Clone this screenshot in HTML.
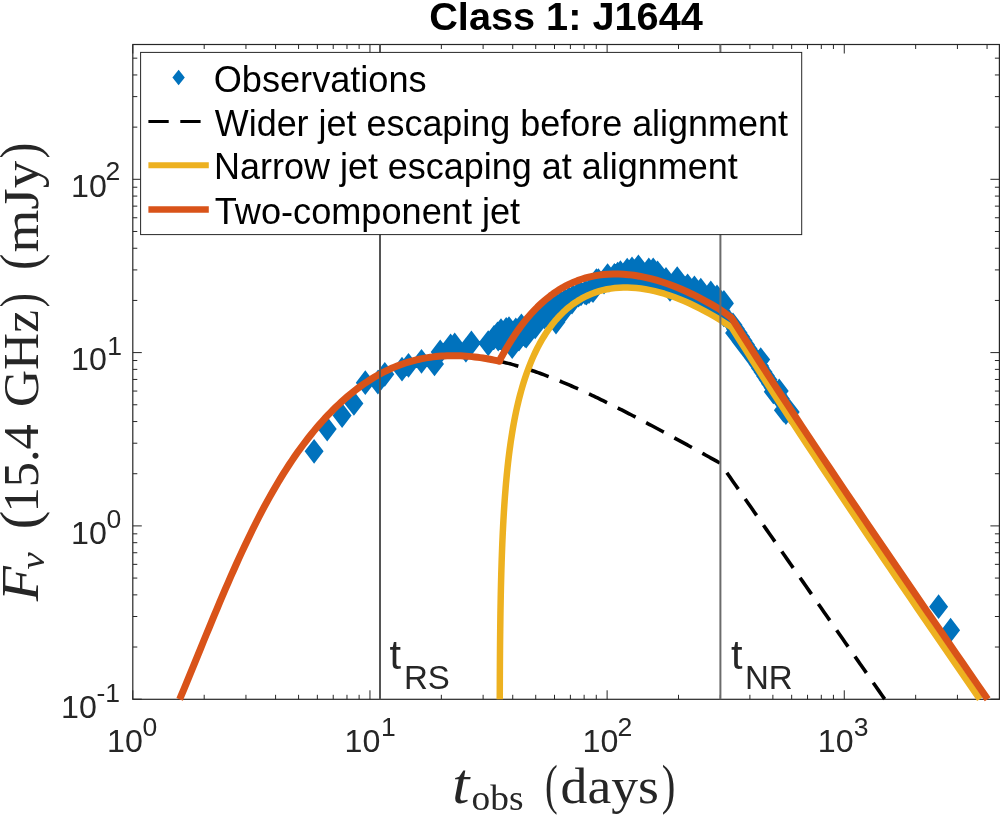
<!DOCTYPE html>
<html><head><meta charset="utf-8"><title>Class 1: J1644</title>
<style>
html,body{margin:0;padding:0;background:#fff;}
body{width:1000px;height:815px;overflow:hidden;}
svg{display:block;}
.s{font-family:'Liberation Sans', Arial, Helvetica, sans-serif;fill:#262626;}
.r{font-family:'Liberation Serif', 'Times New Roman', serif;fill:#262626;}
</style></head>
<body>
<svg width="1000" height="815" viewBox="0 0 1000 815">
<rect x="0" y="0" width="1000" height="815" fill="#fff"/>
<path d="M132.8,699.3v-9.0M132.8,44.5v9.0M204.19,699.3v-4.5M204.19,44.5v4.5M245.95,699.3v-4.5M245.95,44.5v4.5M275.58,699.3v-4.5M275.58,44.5v4.5M298.57,699.3v-4.5M298.57,44.5v4.5M317.35,699.3v-4.5M317.35,44.5v4.5M333.22,699.3v-4.5M333.22,44.5v4.5M346.98,699.3v-4.5M346.98,44.5v4.5M359.11,699.3v-4.5M359.11,44.5v4.5M369.96,699.3v-9.0M369.96,44.5v9.0M441.35,699.3v-4.5M441.35,44.5v4.5M483.11,699.3v-4.5M483.11,44.5v4.5M512.74,699.3v-4.5M512.74,44.5v4.5M535.73,699.3v-4.5M535.73,44.5v4.5M554.51,699.3v-4.5M554.51,44.5v4.5M570.38,699.3v-4.5M570.38,44.5v4.5M584.14,699.3v-4.5M584.14,44.5v4.5M596.27,699.3v-4.5M596.27,44.5v4.5M607.12,699.3v-9.0M607.12,44.5v9.0M678.51,699.3v-4.5M678.51,44.5v4.5M720.27,699.3v-4.5M720.27,44.5v4.5M749.9,699.3v-4.5M749.9,44.5v4.5M772.89,699.3v-4.5M772.89,44.5v4.5M791.67,699.3v-4.5M791.67,44.5v4.5M807.54,699.3v-4.5M807.54,44.5v4.5M821.3,699.3v-4.5M821.3,44.5v4.5M833.43,699.3v-4.5M833.43,44.5v4.5M844.28,699.3v-9.0M844.28,44.5v9.0M915.67,699.3v-4.5M915.67,44.5v4.5M957.43,699.3v-4.5M957.43,44.5v4.5M987.06,699.3v-4.5M987.06,44.5v4.5M132.8,699.2h9.0M999.4,699.2h-9.0M132.8,647.03h4.5M999.4,647.03h-4.5M132.8,616.51h4.5M999.4,616.51h-4.5M132.8,594.86h4.5M999.4,594.86h-4.5M132.8,578.07h4.5M999.4,578.07h-4.5M132.8,564.35h4.5M999.4,564.35h-4.5M132.8,552.74h4.5M999.4,552.74h-4.5M132.8,542.69h4.5M999.4,542.69h-4.5M132.8,533.83h4.5M999.4,533.83h-4.5M132.8,525.9h9.0M999.4,525.9h-9.0M132.8,473.73h4.5M999.4,473.73h-4.5M132.8,443.21h4.5M999.4,443.21h-4.5M132.8,421.56h4.5M999.4,421.56h-4.5M132.8,404.77h4.5M999.4,404.77h-4.5M132.8,391.05h4.5M999.4,391.05h-4.5M132.8,379.44h4.5M999.4,379.44h-4.5M132.8,369.39h4.5M999.4,369.39h-4.5M132.8,360.53h4.5M999.4,360.53h-4.5M132.8,352.6h9.0M999.4,352.6h-9.0M132.8,300.43h4.5M999.4,300.43h-4.5M132.8,269.91h4.5M999.4,269.91h-4.5M132.8,248.26h4.5M999.4,248.26h-4.5M132.8,231.47h4.5M999.4,231.47h-4.5M132.8,217.75h4.5M999.4,217.75h-4.5M132.8,206.14h4.5M999.4,206.14h-4.5M132.8,196.09h4.5M999.4,196.09h-4.5M132.8,187.23h4.5M999.4,187.23h-4.5M132.8,179.3h9.0M999.4,179.3h-9.0M132.8,127.13h4.5M999.4,127.13h-4.5M132.8,96.61h4.5M999.4,96.61h-4.5M132.8,74.96h4.5M999.4,74.96h-4.5M132.8,58.17h4.5M999.4,58.17h-4.5" stroke="#262626" stroke-width="1" fill="none"/>
<rect x="132.8" y="44.5" width="866.6" height="654.8" fill="none" stroke="#262626" stroke-width="1.2"/>
<path d="M314.1,438.9L323.6,451.3L314.1,463.7L304.6,451.3ZM327.2,416.6L336.7,429L327.2,441.4L317.7,429ZM342.1,403.1L351.6,415.5L342.1,427.9L332.6,415.5ZM353.9,391L363.4,403.4L353.9,415.8L344.4,403.4ZM365.3,370.3L374.8,382.7L365.3,395.1L355.8,382.7ZM377.9,369.8L387.4,382.2L377.9,394.6L368.4,382.2ZM384.8,361.9L394.3,374.3L384.8,386.7L375.3,374.3ZM402,356.8L411.5,369.2L402,381.6L392.5,369.2ZM408.5,352.9L418,365.3L408.5,377.7L399,365.3ZM421.5,348.9L431,361.3L421.5,373.7L412,361.3ZM434.5,351.5L444,363.9L434.5,376.3L425,363.9ZM440.2,339.6L449.7,352L440.2,364.4L430.7,352ZM450.6,333.5L460.1,345.9L450.6,358.3L441.1,345.9ZM454.7,332.6L464.2,345L454.7,357.4L445.2,345ZM466,337.7L475.5,350.1L466,362.5L456.5,350.1ZM471.4,330.5L480.9,342.9L471.4,355.3L461.9,342.9ZM938.6,594.3L948.1,606.7L938.6,619.1L929.1,606.7ZM950.6,617.8L960.1,630.2L950.6,642.6L941.1,630.2ZM471.4,330.6L480.9,343L471.4,355.4L461.9,343ZM488.2,331.4L497.7,343.8L488.2,356.2L478.7,343.8ZM494,325.1L503.5,337.5L494,349.9L484.5,337.5ZM497.5,321.6L507,334L497.5,346.4L488,334ZM501,318.2L510.5,330.6L501,343L491.5,330.6ZM506.2,317L515.7,329.4L506.2,341.8L496.7,329.4ZM509,316.2L518.5,328.6L509,341L499.5,328.6ZM515.8,317.4L525.3,329.8L515.8,342.2L506.3,329.8ZM521.4,313.4L530.9,325.8L521.4,338.2L511.9,325.8ZM525,323.04L534.5,335.44L525,347.84L515.5,335.44ZM529,318.23L538.5,330.63L529,343.03L519.5,330.63ZM533,313.76L542.5,326.16L533,338.56L523.5,326.16ZM537,309.62L546.5,322.02L537,334.42L527.5,322.02ZM541,305.79L550.5,318.19L541,330.59L531.5,318.19ZM545,302.26L554.5,314.66L545,327.06L535.5,314.66ZM549,299L558.5,311.4L549,323.8L539.5,311.4ZM553,296L562.5,308.4L553,320.8L543.5,308.4ZM557,293.26L566.5,305.66L557,318.06L547.5,305.66ZM561,290.76L570.5,303.16L561,315.56L551.5,303.16ZM565,288.48L574.5,300.88L565,313.28L555.5,300.88ZM569,286.43L578.5,298.83L569,311.23L559.5,298.83ZM573,284.59L582.5,296.99L573,309.39L563.5,296.99ZM577,282.96L586.5,295.36L577,307.76L567.5,295.36ZM581,281.52L590.5,293.92L581,306.32L571.5,293.92ZM585,280.26L594.5,292.66L585,305.06L575.5,292.66ZM589,279.18L598.5,291.58L589,303.98L579.5,291.58ZM593,278.27L602.5,290.67L593,303.07L583.5,290.67ZM596.4,268.2L605.9,280.6L596.4,293L586.9,280.6ZM598.4,268.2L607.9,280.6L598.4,293L588.9,280.6ZM607.6,263.2L617.1,275.6L607.6,288L598.1,275.6ZM614.4,263L623.9,275.4L614.4,287.8L604.9,275.4ZM617.6,261.8L627.1,274.2L617.6,286.6L608.1,274.2ZM620.4,260.2L629.9,272.6L620.4,285L610.9,272.6ZM627.2,257.8L636.7,270.2L627.2,282.6L617.7,270.2ZM632,256.6L641.5,269L632,281.4L622.5,269ZM638.4,254.4L647.9,266.8L638.4,279.2L628.9,266.8ZM648.8,257.6L658.3,270L648.8,282.4L639.3,270ZM653.2,257.4L662.7,269.8L653.2,282.2L643.7,269.8ZM657.6,260.6L667.1,273L657.6,285.4L648.1,273ZM660,263.4L669.5,275.8L660,288.2L650.5,275.8ZM666,267L675.5,279.4L666,291.8L656.5,279.4ZM677.2,266.2L686.7,278.6L677.2,291L667.7,278.6ZM687.6,273.4L697.1,285.8L687.6,298.2L678.1,285.8ZM694.4,275.4L703.9,287.8L694.4,300.2L684.9,287.8ZM700.8,277.8L710.3,290.2L700.8,302.6L691.3,290.2ZM710.8,280.6L720.3,293L710.8,305.4L701.3,293ZM717,284.6L726.5,297L717,309.4L707.5,297ZM724.4,291L733.9,303.4L724.4,315.8L714.9,303.4ZM465.8,337.8L475.3,350.2L465.8,362.6L456.3,350.2ZM488.2,330.2L497.7,342.6L488.2,355L478.7,342.6ZM498.2,326.6L507.7,339L498.2,351.4L488.7,339ZM505,330.6L514.5,343L505,355.4L495.5,343ZM512.2,334.2L521.7,346.6L512.2,359L502.7,346.6ZM519,326.6L528.5,339L519,351.4L509.5,339ZM526.2,323.8L535.7,336.2L526.2,348.6L516.7,336.2ZM535.2,314.4L544.7,326.8L535.2,339.2L525.7,326.8ZM544.5,304.4L554,316.8L544.5,329.2L535,316.8ZM550,306.6L559.5,319L550,331.4L540.5,319ZM556,309.6L565.5,322L556,334.4L546.5,322ZM564,298.4L573.5,310.8L564,323.2L554.5,310.8ZM572,289.6L581.5,302L572,314.4L562.5,302ZM578.6,282.6L588.1,295L578.6,307.4L569.1,295ZM586.4,280.8L595.9,293.2L586.4,305.6L576.9,293.2ZM591.9,277.1L601.4,289.5L591.9,301.9L582.4,289.5ZM596,274.4L605.5,286.8L596,299.2L586.5,286.8ZM604,269.6L613.5,282L604,294.4L594.5,282ZM609,267.7L618.5,280.1L609,292.5L599.5,280.1ZM613,266.29L622.5,278.69L613,291.09L603.5,278.69ZM617,265.86L626.5,278.26L617,290.66L607.5,278.26ZM621,265.6L630.5,278L621,290.4L611.5,278ZM625,265.49L634.5,277.89L625,290.29L615.5,277.89ZM629,265.54L638.5,277.94L629,290.34L619.5,277.94ZM633,265.73L642.5,278.13L633,290.53L623.5,278.13ZM637,266.07L646.5,278.47L637,290.87L627.5,278.47ZM641,266.54L650.5,278.94L641,291.34L631.5,278.94ZM645,267.14L654.5,279.54L645,291.94L635.5,279.54ZM649,267.87L658.5,280.27L649,292.67L639.5,280.27ZM653,268.71L662.5,281.11L653,293.51L643.5,281.11ZM657,269.68L666.5,282.08L657,294.48L647.5,282.08ZM661,270.76L670.5,283.16L661,295.56L651.5,283.16ZM665,271.95L674.5,284.35L665,296.75L655.5,284.35ZM669,273.24L678.5,285.64L669,298.04L659.5,285.64ZM670,277L679.5,289.4L670,301.8L660.5,289.4ZM673,274.64L682.5,287.04L673,299.44L663.5,287.04ZM677,276.14L686.5,288.54L677,300.94L667.5,288.54ZM681,277.73L690.5,290.13L681,302.53L671.5,290.13ZM685,279.42L694.5,291.82L685,304.22L675.5,291.82ZM689,281.2L698.5,293.6L689,306L679.5,293.6ZM693,283.07L702.5,295.47L693,307.87L683.5,295.47ZM697,285.03L706.5,297.43L697,309.83L687.5,297.43ZM701,287.07L710.5,299.47L701,311.87L691.5,299.47ZM705,289.2L714.5,301.6L705,314L695.5,301.6ZM709,291.4L718.5,303.8L709,316.2L699.5,303.8ZM713,293.68L722.5,306.08L713,318.48L703.5,306.08ZM717,296.04L726.5,308.44L717,320.84L707.5,308.44ZM721,298.47L730.5,310.87L721,323.27L711.5,310.87ZM723.8,302.4L733.3,314.8L723.8,327.2L714.3,314.8ZM504.5,323.39L514,335.79L504.5,348.19L495,335.79ZM504.5,324.31L514,336.71L504.5,349.11L495,336.71ZM507,322.77L516.5,335.17L507,347.57L497.5,335.17ZM507,325.6L516.5,338L507,350.4L497.5,338ZM509.5,322.29L519,334.69L509.5,347.09L500,334.69ZM509.5,326.85L519,339.25L509.5,351.65L500,339.25ZM512,322.73L521.5,335.13L512,347.53L502.5,335.13ZM512,328.1L521.5,340.5L512,352.9L502.5,340.5ZM514.5,323.17L524,335.57L514.5,347.97L505,335.57ZM514.5,325.63L524,338.03L514.5,350.43L505,338.03ZM517,322.54L526.5,334.94L517,347.34L507.5,334.94ZM517,322.84L526.5,335.24L517,347.64L507.5,335.24ZM554.5,300.97L564,313.37L554.5,325.77L545,313.37ZM554.5,302.85L564,315.25L554.5,327.65L545,315.25ZM557,299.26L566.5,311.66L557,324.06L547.5,311.66ZM557,302.2L566.5,314.6L557,327L547.5,314.6ZM559.5,297.69L569,310.09L559.5,322.49L550,310.09ZM559.5,298.7L569,311.1L559.5,323.5L550,311.1ZM733,312.51L742.5,324.91L733,337.31L723.5,324.91ZM735.5,316.49L745,328.89L735.5,341.29L726,328.89ZM738,320.46L747.5,332.86L738,345.26L728.5,332.86ZM740.5,324.42L750,336.82L740.5,349.22L731,336.82ZM743,328.37L752.5,340.77L743,353.17L733.5,340.77ZM745.5,332.31L755,344.71L745.5,357.11L736,344.71ZM748,336.24L757.5,348.64L748,361.04L738.5,348.64ZM750.5,340.16L760,352.56L750.5,364.96L741,352.56ZM753,344.08L762.5,356.48L753,368.88L743.5,356.48ZM755.5,347.98L765,360.38L755.5,372.78L746,360.38ZM758,351.88L767.5,364.28L758,376.68L748.5,364.28ZM760.5,355.77L770,368.17L760.5,380.57L751,368.17ZM763,359.65L772.5,372.05L763,384.45L753.5,372.05ZM765.5,363.52L775,375.92L765.5,388.32L756,375.92ZM768,367.39L777.5,379.79L768,392.19L758.5,379.79ZM770.5,371.25L780,383.65L770.5,396.05L761,383.65ZM773,375.1L782.5,387.5L773,399.9L763.5,387.5ZM775.5,378.95L785,391.35L775.5,403.75L766,391.35ZM778,382.79L787.5,395.19L778,407.59L768.5,395.19ZM780.5,386.62L790,399.02L780.5,411.42L771,399.02ZM783,390.45L792.5,402.85L783,415.25L773.5,402.85ZM785.5,394.27L795,406.67L785.5,419.07L776,406.67ZM723.9,290.1L733.4,302.5L723.9,314.9L714.4,302.5ZM760.7,347.2L770.2,359.6L760.7,372L751.2,359.6ZM779.2,378.5L788.7,390.9L779.2,403.3L769.7,390.9ZM790.2,399.7L799.7,412.1L790.2,424.5L780.7,412.1ZM734.6,320.5L744.1,332.9L734.6,345.3L725.1,332.9ZM741,329.1L750.5,341.5L741,353.9L731.5,341.5ZM747.5,337.6L757,350L747.5,362.4L738,350ZM753.5,345.6L763,358L753.5,370.4L744,358ZM759.5,353.6L769,366L759.5,378.4L750,366ZM773.3,379.4L782.8,391.8L773.3,404.2L763.8,391.8ZM783.4,397.8L792.9,410.2L783.4,422.6L773.9,410.2ZM785.9,400.2L795.4,412.6L785.9,425L776.4,412.6Z" fill="#0072BD"/>
<path d="M499,361.11 L500.86,361.54 L502.72,361.98 L504.58,362.43 L506.44,362.89 L508.3,363.37 L510.16,363.86 L512.02,364.37 L513.88,364.88 L515.74,365.41 L517.6,365.95 L519.46,366.5 L521.32,367.07 L523.18,367.64 L525.04,368.23 L526.89,368.83 L528.75,369.44 L530.61,370.05 L532.47,370.68 L534.33,371.32 L536.19,371.97 L538.05,372.63 L539.91,373.3 L541.77,373.98 L543.63,374.67 L545.49,375.37 L547.35,376.08 L549.21,376.79 L551.07,377.52 L552.93,378.25 L554.79,378.99 L556.65,379.74 L558.51,380.5 L560.37,381.27 L562.23,382.04 L564.09,382.82 L565.95,383.61 L567.81,384.4 L569.67,385.21 L571.53,386.01 L573.39,386.83 L575.25,387.65 L577.11,388.48 L578.97,389.32 L580.83,390.16 L582.68,391.01 L584.54,391.86 L586.4,392.72 L588.26,393.59 L590.12,394.46 L591.98,395.33 L593.84,396.21 L595.7,397.1 L597.56,397.99 L599.42,398.89 L601.28,399.79 L603.14,400.7 L605,401.61 L606.86,402.52 L608.72,403.44 L610.58,404.36 L612.44,405.29 L614.3,406.22 L616.16,407.16 L618.02,408.1 L619.88,409.04 L621.74,409.98 L623.6,410.93 L625.46,411.89 L627.32,412.84 L629.18,413.8 L631.04,414.76 L632.9,415.73 L634.76,416.7 L636.62,417.67 L638.47,418.64 L640.33,419.62 L642.19,420.6 L644.05,421.58 L645.91,422.56 L647.77,423.55 L649.63,424.54 L651.49,425.53 L653.35,426.52 L655.21,427.52 L657.07,428.51 L658.93,429.51 L660.79,430.51 L662.65,431.51 L664.51,432.52 L666.37,433.53 L668.23,434.53 L670.09,435.54 L671.95,436.55 L673.81,437.56 L675.67,438.58 L677.53,439.59 L679.39,440.61 L681.25,441.63 L683.11,442.65 L684.97,443.67 L686.83,444.69 L688.69,445.71 L690.55,446.74 L692.41,447.76 L694.26,448.79 L696.12,449.81 L697.98,450.84 L699.84,451.87 L701.7,452.9 L703.56,453.93 L705.42,454.96 L707.28,456 L709.14,457.03 L711,458.07 L712.86,459.1 L714.72,460.14 L716.58,461.18 L718.44,462.21 L720.3,463.25 L720.3,463.25 L720.8,463.97 L723.84,468.33 L726.87,472.69 L729.91,477.05 L732.95,481.41 L735.99,485.76 L739.02,490.12 L742.06,494.48 L745.1,498.84 L748.14,503.2 L751.17,507.56 L754.21,511.91 L757.25,516.27 L760.28,520.63 L763.32,524.99 L766.36,529.35 L769.4,533.71 L772.43,538.07 L775.47,542.42 L778.51,546.78 L781.55,551.14 L784.58,555.5 L787.62,559.86 L790.66,564.22 L793.69,568.58 L796.73,572.93 L799.77,577.29 L802.81,581.65 L805.84,586.01 L808.88,590.37 L811.92,594.73 L814.96,599.09 L817.99,603.44 L821.03,607.8 L824.07,612.16 L827.11,616.52 L830.14,620.88 L833.18,625.24 L836.22,629.59 L839.25,633.95 L842.29,638.31 L845.33,642.67 L848.37,647.03 L851.4,651.39 L854.44,655.75 L857.48,660.1 L860.52,664.46 L863.55,668.82 L866.59,673.18 L869.63,677.54 L872.66,681.9 L875.7,686.26 L878.74,690.61 L881.78,694.97 L884.79,699.3" fill="none" stroke="#000" stroke-width="3.6" stroke-dasharray="20 12" stroke-dashoffset="0"/>
<path d="M499.76,699.3 L499.76,698.16 L499.77,695.38 L499.78,692.6 L499.79,689.82 L499.8,687.04 L499.81,684.26 L499.82,681.47 L499.83,678.69 L499.84,675.91 L499.86,673.13 L499.87,670.35 L499.89,667.57 L499.9,664.79 L499.92,662.01 L499.94,659.23 L499.96,656.45 L499.98,653.67 L500,650.89 L500.02,648.11 L500.05,645.33 L500.07,642.55 L500.1,639.77 L500.13,636.97 L500.16,634.13 L500.2,631.27 L500.23,628.37 L500.27,625.44 L500.31,622.47 L500.35,619.47 L500.39,616.43 L500.44,613.36 L500.49,610.25 L500.54,607.1 L500.6,603.92 L500.66,600.7 L500.72,597.44 L500.79,594.15 L500.86,590.82 L500.93,587.45 L501.01,584.05 L501.1,580.61 L501.19,577.13 L501.28,573.62 L501.38,570.07 L501.49,566.48 L501.6,562.86 L501.72,559.21 L501.85,555.52 L501.98,551.8 L502.12,548.04 L502.27,544.26 L502.43,540.43 L502.6,536.58 L502.78,532.7 L502.97,528.79 L503.17,524.85 L503.38,520.88 L503.61,516.88 L503.84,512.86 L504.1,508.81 L504.36,504.74 L504.64,500.65 L504.94,496.53 L505.26,492.39 L505.59,488.24 L505.94,484.07 L506.32,479.88 L506.71,475.67 L507.12,471.45 L507.56,467.22 L508.03,462.98 L508.52,458.73 L509.04,454.47 L509.58,450.21 L510.16,445.94 L510.76,441.67 L511.41,437.4 L512.08,433.13 L512.79,428.87 L513.54,424.61 L514.33,420.36 L515.16,416.11 L516.03,411.88 L516.95,407.67 L517.92,403.46 L518.93,399.28 L520,395.12 L521.12,390.98 L522.29,386.87 L523.52,382.78 L524.81,378.73 L526.16,374.71 L527.57,370.73 L529.05,366.79 L530.6,362.89 L532.21,359.04 L533.9,355.24 L535.65,351.5 L537.49,347.81 L539.4,344.19 L541.38,340.64 L543.45,337.16 L545.6,333.75 L547.83,330.42 L550.15,327.19 L552.55,324.04 L555.03,320.98 L557.61,318.03 L560.27,315.19 L563.02,312.46 L565.86,309.84 L568.79,307.35 L571.81,304.99 L574.91,302.75 L578.11,300.66 L581.4,298.71 L584.77,296.9 L588.24,295.24 L591.79,293.73 L595.43,292.38 L599.15,291.19 L602.96,290.16 L606.85,289.29 L610.83,288.6 L614.88,288.07 L619.02,287.71 L623.23,287.52 L627.51,287.5 L631.87,287.67 L636.3,288 L640.8,288.51 L645.37,289.2 L650.01,290.07 L654.71,291.11 L659.47,292.33 L664.29,293.73 L669.17,295.3 L674.1,297.04 L679.09,298.96 L684.13,301.05 L689.22,303.3 L694.36,305.73 L699.54,308.32 L704.77,311.07 L710.04,313.99 L715.35,317.06 L720.7,320.28 L726.08,323.66 L731.51,327.18 L732.01,327.99 L738.88,338.98 L745.75,349.89 L752.62,360.74 L759.49,371.51 L766.36,382.22 L773.24,392.87 L780.11,403.47 L786.98,414.02 L793.85,424.53 L800.72,434.99 L807.59,445.41 L814.47,455.8 L821.34,466.15 L828.21,476.47 L835.08,486.76 L841.95,497.02 L848.82,507.26 L855.7,517.47 L862.57,527.67 L869.44,537.84 L876.31,547.99 L883.18,558.12 L890.05,568.24 L896.93,578.34 L903.8,588.43 L910.67,598.5 L917.54,608.56 L924.41,618.61 L931.28,628.65 L938.16,638.68 L945.03,648.7 L951.9,658.71 L958.77,668.71 L965.64,678.7 L972.51,688.69 L979.39,698.66 L979.82,699.3" fill="none" stroke="#EDB120" stroke-width="6.5" stroke-linejoin="round"/>
<path d="M179.66,699.3 L181.08,695.92 L183.85,689.29 L186.62,682.6 L189.39,675.88 L192.16,669.13 L194.93,662.37 L197.7,655.59 L200.47,648.81 L203.24,642.04 L206.01,635.29 L208.78,628.55 L211.55,621.85 L214.32,615.17 L217.09,608.54 L219.86,601.96 L222.63,595.43 L225.4,588.96 L228.17,582.56 L230.94,576.22 L233.71,569.96 L236.48,563.77 L239.25,557.67 L242.02,551.65 L244.79,545.72 L247.56,539.89 L250.33,534.15 L253.1,528.51 L255.87,522.97 L258.64,517.53 L261.41,512.2 L264.18,506.97 L266.95,501.85 L269.72,496.84 L272.49,491.93 L275.26,487.13 L278.03,482.45 L280.8,477.87 L283.57,473.39 L286.34,469.03 L289.11,464.77 L291.88,460.61 L294.65,456.55 L297.42,452.6 L300.19,448.74 L302.96,444.98 L305.73,441.31 L308.5,437.74 L311.26,434.26 L314.03,430.87 L316.8,427.57 L319.57,424.35 L322.34,421.22 L325.11,418.18 L327.88,415.22 L330.65,412.34 L333.42,409.54 L336.19,406.82 L338.96,404.19 L341.73,401.63 L344.5,399.15 L347.27,396.75 L350.04,394.42 L352.81,392.17 L355.58,389.99 L358.35,387.89 L361.12,385.87 L363.89,383.92 L366.66,382.04 L369.43,380.23 L372.2,378.5 L374.97,376.84 L377.74,375.24 L380.51,373.72 L383.28,372.27 L386.05,370.88 L388.82,369.56 L391.59,368.31 L394.36,367.12 L397.13,366 L399.9,364.94 L402.67,363.95 L405.44,363.01 L408.21,362.14 L410.98,361.33 L413.75,360.58 L416.52,359.88 L419.29,359.24 L422.06,358.66 L424.83,358.13 L427.6,357.66 L430.37,357.24 L433.14,356.87 L435.91,356.55 L438.68,356.28 L441.45,356.06 L444.22,355.89 L446.99,355.77 L449.76,355.69 L452.53,355.66 L455.3,355.67 L458.07,355.73 L460.84,355.83 L463.61,355.97 L466.38,356.15 L469.15,356.38 L471.92,356.64 L474.69,356.94 L477.46,357.28 L480.23,357.65 L483,358.07 L485.77,358.51 L488.54,359 L491.31,359.51 L494.08,360.06 L496.85,360.64 L499.62,361.25 L499.63,361.1 L499.63,361.1 L499.63,361.09 L499.63,361.08 L499.63,361.07 L499.63,361.06 L499.63,361.06 L499.63,361.05 L499.63,361.04 L499.64,361.03 L499.64,361.02 L499.64,361.01 L499.64,361 L499.64,360.98 L499.64,360.97 L499.65,360.96 L499.65,360.94 L499.65,360.93 L499.65,360.92 L499.65,360.9 L499.66,360.88 L499.66,360.87 L499.66,360.85 L499.67,360.83 L499.67,360.81 L499.67,360.79 L499.68,360.77 L499.68,360.75 L499.69,360.73 L499.69,360.7 L499.7,360.68 L499.7,360.65 L499.71,360.62 L499.72,360.6 L499.73,360.57 L499.73,360.54 L499.74,360.5 L499.75,360.47 L499.76,360.43 L499.77,360.4 L499.78,360.36 L499.8,360.32 L499.81,360.28 L499.82,360.23 L499.84,360.19 L499.85,360.14 L499.87,360.09 L499.89,360.04 L499.91,359.99 L499.93,359.93 L499.96,359.87 L499.98,359.81 L500.01,359.75 L500.04,359.68 L500.07,359.61 L500.1,359.54 L500.14,359.46 L500.18,359.38 L500.22,359.29 L500.27,359.2 L500.31,359.11 L500.37,359.01 L500.42,358.9 L500.48,358.78 L500.55,358.66 L500.61,358.53 L500.69,358.39 L500.77,358.24 L500.85,358.08 L500.94,357.91 L501.04,357.73 L501.15,357.54 L501.26,357.33 L501.38,357.11 L501.52,356.87 L501.66,356.62 L501.81,356.35 L501.97,356.06 L502.14,355.75 L502.33,355.42 L502.53,355.07 L502.74,354.69 L502.97,354.29 L503.22,353.85 L503.48,353.39 L503.76,352.9 L504.07,352.37 L504.39,351.8 L504.74,351.2 L505.11,350.56 L505.51,349.87 L505.94,349.14 L506.4,348.36 L506.89,347.53 L507.41,346.65 L507.97,345.72 L508.56,344.73 L509.2,343.68 L509.89,342.57 L510.61,341.4 L511.39,340.16 L512.22,338.86 L513.1,337.49 L514.04,336.06 L515.04,334.55 L516.11,332.98 L517.24,331.34 L518.44,329.63 L519.72,327.86 L521.07,326.02 L522.51,324.12 L524.03,322.16 L525.65,320.14 L527.35,318.07 L529.15,315.95 L531.05,313.79 L533.06,311.6 L535.17,309.38 L537.39,307.13 L539.73,304.88 L542.18,302.62 L544.76,300.36 L547.45,298.13 L550.27,295.92 L553.22,293.75 L556.3,291.62 L559.5,289.57 L562.84,287.58 L566.31,285.69 L569.92,283.89 L573.65,282.21 L577.53,280.66 L581.53,279.24 L585.67,277.97 L589.94,276.85 L594.34,275.91 L598.86,275.14 L603.52,274.55 L608.29,274.16 L613.19,273.97 L618.21,273.98 L623.34,274.21 L628.58,274.65 L633.94,275.31 L639.4,276.19 L644.96,277.31 L650.62,278.65 L656.37,280.22 L662.22,282.02 L668.15,284.06 L674.17,286.32 L680.27,288.82 L686.44,291.54 L692.69,294.48 L699,297.65 L705.38,301.04 L711.83,304.63 L718.33,308.44 L724.89,312.96 L731.51,317.87 L732.01,318.66 L739.01,329.72 L746.01,340.71 L753.01,351.63 L760.01,362.49 L767.01,373.29 L774.01,384.04 L781.01,394.73 L788,405.39 L795,416 L802,426.57 L809,437.11 L816,447.61 L823,458.08 L830,468.53 L837,478.94 L844,489.34 L851,499.71 L858,510.06 L865,520.39 L872,530.7 L879,540.99 L886,551.27 L893,561.54 L900,571.79 L907,582.03 L914,592.25 L921,602.47 L928,612.67 L935,622.87 L942,633.06 L949,643.23 L956,653.4 L963,663.57 L970,673.72 L977,683.87 L984,694.02 L987.65,699.3" fill="none" stroke="#D95319" stroke-width="7" stroke-linejoin="round"/>
<path d="M380,44.5V699.3" stroke="#555" stroke-width="2" fill="none"/><path d="M720.4,44.5V699.3" stroke="#6b6b6b" stroke-width="2" fill="none"/>
<!-- annotations -->
<text class="s" x="389.5" y="668.5" font-size="41.5">t</text><text class="s" x="404" y="688.5" font-size="33">RS</text>
<text class="s" x="731" y="668.5" font-size="41.5">t</text><text class="s" x="745" y="688.5" font-size="33">NR</text>
<!-- legend -->
<rect x="140.6" y="52.4" width="661.1" height="182.2" fill="#fff" stroke="#262626" stroke-width="1"/>
<path d="M178.6,69.7L184.8,77.5L178.6,85.3L172.4,77.5Z" fill="#0072BD"/>
<path d="M148.4,121.6H201" stroke="#000" stroke-width="3" stroke-dasharray="20.3 11.6"/>
<path d="M148.4,165.3H208.8" stroke="#EDB120" stroke-width="6.1"/>
<path d="M148.4,209.5H208.8" stroke="#D95319" stroke-width="6.7"/>
<g class="s" font-size="36.15" style="fill:#000"><text x="213.75" y="91.6" textLength="212.89" lengthAdjust="spacingAndGlyphs">Observations</text><text x="214.78" y="135.7" textLength="573.14" lengthAdjust="spacingAndGlyphs">Wider jet escaping before alignment</text><text x="214.01" y="179.4" textLength="523.73" lengthAdjust="spacingAndGlyphs">Narrow jet escaping at alignment</text><text x="214.75" y="223.6" textLength="305.39" lengthAdjust="spacingAndGlyphs">Two-component jet</text></g>
<!-- title -->
<text class="s" x="566" y="29.7" font-size="39.7" font-weight="bold" text-anchor="middle" style="fill:#000">Class 1: J1644</text>
<g class="s"><text x="107.00" y="751.83" font-size="32.2">10</text><text x="142.50" y="736.05" font-size="26.5">0</text>
<text x="344.50" y="751.83" font-size="32.2">10</text><text x="381.00" y="736.00" font-size="26.5">1</text>
<text x="582.50" y="751.92" font-size="32.2">10</text><text x="617.52" y="736.10" font-size="26.5">2</text>
<text x="817.80" y="751.92" font-size="32.2">10</text><text x="853.80" y="736.25" font-size="26.5">3</text>
<text x="71.00" y="196.62" font-size="32.2">10</text><text x="105.62" y="180.00" font-size="26.5">2</text>
<text x="71.00" y="370.43" font-size="32.2">10</text><text x="107.20" y="354.80" font-size="26.5">1</text>
<text x="71.00" y="544.12" font-size="32.2">10</text><text x="106.50" y="528.45" font-size="26.5">0</text>
<text x="61.10" y="717.62" font-size="32.2">10</text><text x="96.47" y="702.40" font-size="26.5">-1</text></g>
<!-- x label -->
<g class="r">
<text x="452.24" y="803" font-size="56" font-style="italic" textLength="17.18" lengthAdjust="spacingAndGlyphs">t</text>
<text x="471.57" y="810.2" font-size="36" textLength="51.94" lengthAdjust="spacingAndGlyphs">obs</text>
<text x="545.05" y="803" font-size="55" textLength="12.71" lengthAdjust="spacingAndGlyphs">(</text>
<text x="560.62" y="803" font-size="50" textLength="98.28" lengthAdjust="spacingAndGlyphs">days</text>
<text x="661.70" y="803" font-size="55" textLength="13.62" lengthAdjust="spacingAndGlyphs">)</text>
</g>
<!-- y label -->
<g class="r" transform="translate(37.5,601.4) rotate(-90)">
<text x="0.28" y="0" font-size="52" font-style="italic" textLength="35.03" lengthAdjust="spacingAndGlyphs">F</text>
<text x="32.03" y="6.8" font-size="34" font-style="italic" textLength="17.34" lengthAdjust="spacingAndGlyphs">ν</text>
<text x="72.20" y="0" font-size="55" textLength="18.54" lengthAdjust="spacingAndGlyphs">(</text>
<text x="88.99" y="0" font-size="50" textLength="88.16" lengthAdjust="spacingAndGlyphs">15.4</text>
<text x="194.35" y="0" font-size="50" textLength="97.01" lengthAdjust="spacingAndGlyphs">GHz</text>
<text x="294.01" y="0" font-size="55" textLength="14.52" lengthAdjust="spacingAndGlyphs">)</text>
<text x="331.63" y="0" font-size="55" textLength="15.95" lengthAdjust="spacingAndGlyphs">(</text>
<text x="348.80" y="0" font-size="50" textLength="91.85" lengthAdjust="spacingAndGlyphs">mJy</text>
<text x="442.88" y="0" font-size="55" textLength="15.95" lengthAdjust="spacingAndGlyphs">)</text>
</g>
</svg>
</body></html>
